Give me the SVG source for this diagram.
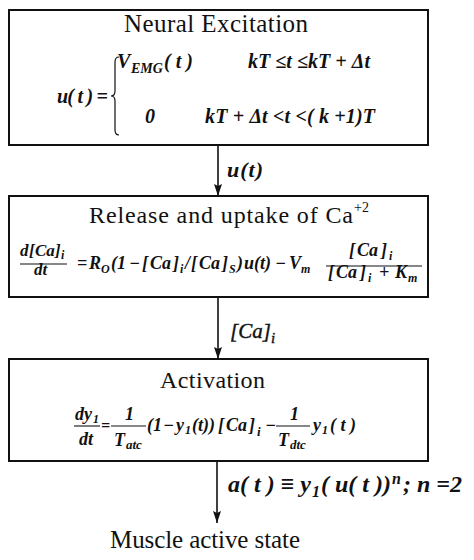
<svg xmlns="http://www.w3.org/2000/svg" width="474" height="560" viewBox="0 0 474 560">
<defs>
<style>
.box{fill:#fff;stroke:#111;stroke-width:2}
.t{font-family:"Liberation Serif","Times New Roman",serif;fill:#111}
.m{font-family:"Liberation Serif","Times New Roman",serif;font-style:italic;font-weight:bold;fill:#111}
.mi{font-family:"Liberation Serif","Times New Roman",serif;font-style:italic;fill:#111;stroke:#111;stroke-width:0.4}
.fr{stroke:#111;stroke-width:1.1}
.conn line{stroke:#111;stroke-width:1.6;marker-end:url(#ah)}
</style>
<marker id="ah" viewBox="0 0 12 8" refX="12" refY="4" markerWidth="12" markerHeight="8" orient="auto" markerUnits="userSpaceOnUse">
<path d="M0,0 L12,4 L0,8 L2,4 z" fill="#111"/>
</marker>
</defs>
<rect width="474" height="560" fill="#fff"/>

<g id="neural-excitation">
<rect class="box" x="9" y="10" width="419" height="135"/>
<text class="t" x="124" y="32" font-size="25" textLength="184" lengthAdjust="spacing">Neural Excitation</text>
<text class="m" x="57" y="103" font-size="20" textLength="51" lengthAdjust="spacing">u( t ) =</text>
<path d="M119,57 Q115,57 115,62 L115,91 Q115,96 111,96 Q115,96 115,101 L115,130 Q115,135 119,135" fill="none" stroke="#111" stroke-width="1.2"/>
<text class="m" y="68" font-size="20"><tspan x="117">V</tspan><tspan x="131" y="73" font-size="14">EMG</tspan><tspan x="164" y="68">( t )</tspan></text>
<text class="m" x="248" y="68" font-size="20" textLength="122" lengthAdjust="spacing">kT ≤t ≤kT + Δt</text>
<text class="m" x="145" y="123" font-size="20">0</text>
<text class="m" x="205" y="123" font-size="20" textLength="170" lengthAdjust="spacing">kT + Δt &lt;t &lt;( k +1)T</text>
</g>

<g id="calcium">
<rect class="box" x="9" y="196" width="419" height="101"/>
<text class="t" x="89" y="223" font-size="24" textLength="264" lengthAdjust="spacing">Release and uptake of Ca</text>
<text class="t" x="354" y="212" font-size="14">+2</text>
<text class="m" y="256" font-size="17"><tspan x="20">d</tspan><tspan x="29">[</tspan><tspan x="35">Ca</tspan><tspan x="55">]</tspan><tspan x="61" y="259" font-size="12">i</tspan></text>
<line class="fr" x1="20" y1="264" x2="67" y2="264"/>
<text class="m" x="34" y="275" font-size="17">dt</text>
<text class="m" y="269" font-size="18"><tspan x="77">=</tspan><tspan x="89">R</tspan><tspan x="101" y="273" font-size="12">O</tspan><tspan x="111" y="269">(</tspan><tspan x="117">1</tspan><tspan x="129">−</tspan><tspan x="142">[</tspan><tspan x="150">Ca</tspan><tspan x="173">]</tspan><tspan x="180" y="273" font-size="12">i</tspan><tspan x="185" y="269">/</tspan><tspan x="191">[</tspan><tspan x="199">Ca</tspan><tspan x="222">]</tspan><tspan x="229" y="273" font-size="12">S</tspan><tspan x="237" y="269">)</tspan><tspan x="244">u(t)</tspan><tspan x="275">−</tspan><tspan x="289">V</tspan><tspan x="301" y="273" font-size="12">m</tspan></text>
<text class="m" y="256" font-size="18"><tspan x="349">[</tspan><tspan x="357">Ca</tspan><tspan x="381">]</tspan><tspan x="389" y="260" font-size="12">i</tspan></text>
<line class="fr" x1="326" y1="266" x2="422" y2="266"/>
<text class="m" y="278" font-size="18"><tspan x="328">[</tspan><tspan x="336">Ca</tspan><tspan x="360">]</tspan><tspan x="368" y="282" font-size="12">i</tspan><tspan x="379" y="278">+</tspan><tspan x="395">K</tspan><tspan x="408" y="282" font-size="12">m</tspan></text>
</g>

<g id="activation">
<rect class="box" x="9" y="359" width="419" height="102"/>
<text class="t" x="160" y="388" font-size="24" textLength="105" lengthAdjust="spacing">Activation</text>
<text class="m" y="420" font-size="18"><tspan x="75">dy</tspan><tspan x="93" y="423" font-size="12">1</tspan></text>
<line class="fr" x1="74" y1="426" x2="100" y2="426"/>
<text class="m" x="79" y="445" font-size="18">dt</text>
<text class="m" x="101" y="431" font-size="16">=</text>
<text class="m" x="125" y="420" font-size="18">1</text>
<line class="fr" x1="111" y1="426" x2="146" y2="426"/>
<text class="m" y="446" font-size="18"><tspan x="114">T</tspan><tspan x="126" y="449" font-size="13">atc</tspan></text>
<text class="m" y="431" font-size="18"><tspan x="147">(</tspan><tspan x="153">1</tspan><tspan x="163">−</tspan><tspan x="176">y</tspan><tspan x="185" y="434" font-size="12">1</tspan><tspan x="192" y="431">(t))</tspan><tspan x="218">[</tspan><tspan x="226">Ca</tspan><tspan x="249">]</tspan><tspan x="257" y="436" font-size="13">i</tspan><tspan x="265" y="431">−</tspan></text>
<text class="m" x="290" y="420" font-size="18">1</text>
<line class="fr" x1="276" y1="426" x2="310" y2="426"/>
<text class="m" y="446" font-size="18"><tspan x="278">T</tspan><tspan x="290" y="449" font-size="13">dtc</tspan></text>
<text class="m" y="431" font-size="18"><tspan x="313">y</tspan><tspan x="322" y="434" font-size="12">1</tspan><tspan x="330" y="431">( t )</tspan></text>
</g>

<g id="output">
<text class="t" x="110" y="548" font-size="25" textLength="190" lengthAdjust="spacing">Muscle active state</text>
</g>

<g class="conn" id="connectors">
<line x1="218" y1="145" x2="218" y2="196"/>
<line x1="218" y1="297" x2="218" y2="359"/>
<line x1="217" y1="461" x2="217" y2="523"/>
</g>

<g id="connector-labels">
<text class="m" x="227" y="177" font-size="22" textLength="36" lengthAdjust="spacing">u(t)</text>
<text class="mi" y="338" font-size="21"><tspan x="230">[Ca]</tspan><tspan x="271" y="343" font-size="15">i</tspan></text>
<text class="m" y="492" font-size="24"><tspan x="228">a( t ) ≡ y</tspan><tspan x="312" y="497" font-size="16">1</tspan><tspan x="321" y="492">( u( t ))</tspan><tspan x="392" y="484" font-size="16">n</tspan><tspan x="403" y="492">; n =2</tspan></text>
</g>
</svg>
